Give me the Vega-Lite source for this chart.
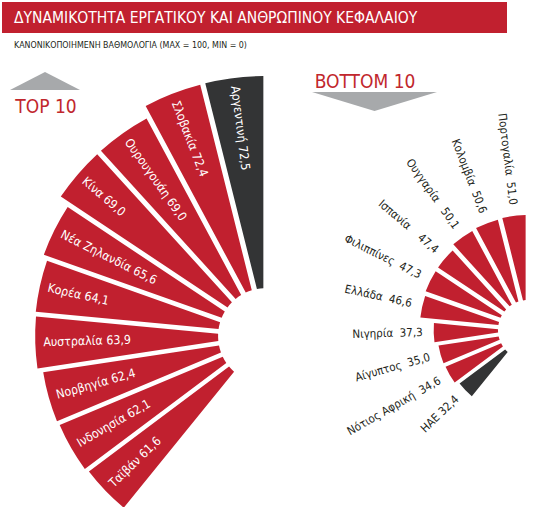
{
  "$schema": "https://vega.github.io/schema/vega-lite/v6.json",
  "description": "Δυναμικότητα εργατικού και ανθρώπινου κεφαλαίου, top 10 and bottom 10",
  "padding": {"left": 2, "top": 2, "right": 0, "bottom": 0},
  "background": "white",
  "spacing": 0,
  "bounds": "flush",
  "datasets": {
    "scores": [
      {"group": "TOP 10", "pos": 1, "country": "Αργεντινή", "value": 72.5, "label": "Αργεντινή 72,5"},
      {"group": "TOP 10", "pos": 2, "country": "Σλοβακία", "value": 72.4, "label": "Σλοβακία 72,4"},
      {"group": "TOP 10", "pos": 3, "country": "Ουρουγουάη", "value": 69.0, "label": "Ουρουγουάη 69,0"},
      {"group": "TOP 10", "pos": 4, "country": "Κίνα", "value": 69.0, "label": "Κίνα 69,0"},
      {"group": "TOP 10", "pos": 5, "country": "Νέα Ζηλανδία", "value": 65.6, "label": "Νέα Ζηλανδία 65,6"},
      {"group": "TOP 10", "pos": 6, "country": "Κορέα", "value": 64.1, "label": "Κορέα 64,1"},
      {"group": "TOP 10", "pos": 7, "country": "Αυστραλία", "value": 63.9, "label": "Αυστραλία 63,9"},
      {"group": "TOP 10", "pos": 8, "country": "Νορβηγία", "value": 62.4, "label": "Νορβηγία 62,4"},
      {"group": "TOP 10", "pos": 9, "country": "Ινδονησία", "value": 62.1, "label": "Ινδονησία 62,1"},
      {"group": "TOP 10", "pos": 10, "country": "Ταϊβάν", "value": 61.6, "label": "Ταϊβάν 61,6"},
      {"group": "BOTTOM 10", "pos": 1, "country": "Πορτογαλία", "value": 51.0, "label": "Πορτογαλία\u00a0\u00a051,0"},
      {"group": "BOTTOM 10", "pos": 2, "country": "Κολομβία", "value": 50.6, "label": "Κολομβία\u00a0\u00a050,6"},
      {"group": "BOTTOM 10", "pos": 3, "country": "Ουγγαρία", "value": 50.1, "label": "Ουγγαρία\u00a0\u00a0\u00a050,1"},
      {"group": "BOTTOM 10", "pos": 4, "country": "Ισπανία", "value": 47.4, "label": "Ισπανία\u00a0\u00a0\u00a0\u00a047,4"},
      {"group": "BOTTOM 10", "pos": 5, "country": "Φιλιππίνες", "value": 47.3, "label": "Φιλιππίνες\u00a0\u00a047,3"},
      {"group": "BOTTOM 10", "pos": 6, "country": "Ελλάδα", "value": 46.6, "label": "Ελλάδα\u00a0\u00a046,6"},
      {"group": "BOTTOM 10", "pos": 7, "country": "Νιγηρία", "value": 37.3, "label": "Νιγηρία\u00a0\u00a037,3"},
      {"group": "BOTTOM 10", "pos": 8, "country": "Αίγυπτος", "value": 35.0, "label": "Αίγυπτος\u00a0\u00a035,0"},
      {"group": "BOTTOM 10", "pos": 9, "country": "Νότιος Αφρική", "value": 34.6, "label": "Νότιος Αφρική\u00a0\u00a034,6"},
      {"group": "BOTTOM 10", "pos": 10, "country": "ΗΑΕ", "value": 32.4, "label": "ΗΑΕ 32,4"}
    ],
    "headers": [
      {"header": "TOP 10"},
      {"header": "BOTTOM 10"}
    ]
  },
  "vconcat": [
    {
      "width": 505,
      "height": 31,
      "view": {"fill": "#c1202f", "stroke": null},
      "title": {
        "text": "ΔΥΝΑΜΙΚΟΤΗΤΑ ΕΡΓΑΤΙΚΟΥ ΚΑΙ ΑΝΘΡΩΠΙΝΟΥ ΚΕΦΑΛΑΙΟΥ",
        "anchor": "start",
        "dx": 12,
        "offset": -24,
        "color": "white",
        "font": "Liberation Sans Narrow, DejaVu Sans Condensed, Roboto",
        "fontSize": 15.5,
        "fontWeight": "normal"
      },
      "data": {"name": "headers"},
      "mark": {"type": "point", "opacity": 0},
      "encoding": {}
    },
    {
      "width": 532,
      "height": 474,
      "title": {
        "text": "ΚΑΝΟΝΙΚΟΠΟΙΗΜΕΝΗ ΒΑΘΜΟΛΟΓΙΑ (MAX = 100, MIN = 0)",
        "anchor": "start",
        "dx": 12,
        "offset": -17,
        "color": "#231f20",
        "font": "Liberation Sans Narrow, DejaVu Sans Condensed, Roboto",
        "fontSize": 8.8,
        "fontWeight": "normal"
      },
      "data": {"name": "scores"},
      "resolve": {"scale": {"x": "independent", "y": "independent", "radius": "independent", "theta": "independent", "angle": "independent", "color": "independent"}},
      "layer": [
        {
          "transform": [{"filter": "datum.group == 'TOP 10'"}],
          "mark": {"type": "arc", "padAngle": 0.02},
          "encoding": {
            "x": {"field": "group", "type": "nominal", "axis": null, "scale": {"type": "point", "padding": 0, "domain": ["TOP 10", "BOTTOM 10"], "range": [264, 526]}},
            "y": {"field": "group", "type": "nominal", "axis": null, "scale": {"type": "point", "padding": 0, "domain": ["TOP 10", "BOTTOM 10"], "range": [303, 297]}},
            "theta": {"field": "pos", "type": "ordinal", "scale": {"type": "band", "paddingInner": 0, "paddingOuter": 0, "domain": [1, 2, 3, 4, 5, 6, 7, 8, 9, 10], "range": [0, -2.46]}},
            "radius": {"field": "value", "type": "quantitative", "scale": {"type": "linear", "domain": [0, 72.5], "range": [14, 260]}},
            "radius2": {"datum": 10},
            "color": {"condition": {"test": "datum.pos == 1", "value": "#333435"}, "value": "#c1202f"}
          }
        },
        {
          "transform": [{"filter": "datum.group == 'TOP 10'"}],
          "mark": {"type": "text", "align": "left", "baseline": "middle", "color": "white", "font": "Liberation Sans Narrow, DejaVu Sans Condensed, Roboto", "fontSize": 12.3},
          "encoding": {
            "x": {"field": "group", "type": "nominal", "axis": null, "scale": {"type": "point", "padding": 0, "domain": ["TOP 10", "BOTTOM 10"], "range": [264, 526]}},
            "y": {"field": "group", "type": "nominal", "axis": null, "scale": {"type": "point", "padding": 0, "domain": ["TOP 10", "BOTTOM 10"], "range": [303, 297]}},
            "theta": {"field": "pos", "type": "ordinal", "scale": {"type": "band", "paddingInner": 0, "paddingOuter": 0, "domain": [1, 2, 3, 4, 5, 6, 7, 8, 9, 10], "range": [0, -2.46]}},
            "radius": {"field": "value", "type": "quantitative", "scale": {"type": "linear", "domain": [0, 72.5], "range": [6, 252]}},
            "angle": {"field": "pos", "type": "quantitative", "scale": {"domain": [1, 10], "range": [82.95, -43.95]}},
            "text": {"field": "label"}
          }
        },
        {
          "transform": [{"filter": "datum.group == 'BOTTOM 10'"}],
          "mark": {"type": "arc", "padAngle": 0.04},
          "encoding": {
            "x": {"field": "group", "type": "nominal", "axis": null, "scale": {"type": "point", "padding": 0, "domain": ["TOP 10", "BOTTOM 10"], "range": [264, 526]}},
            "y": {"field": "group", "type": "nominal", "axis": null, "scale": {"type": "point", "padding": 0, "domain": ["TOP 10", "BOTTOM 10"], "range": [303, 297]}},
            "theta": {"field": "pos", "type": "ordinal", "scale": {"type": "band", "paddingInner": 0, "paddingOuter": 0, "domain": [1, 2, 3, 4, 5, 6, 7, 8, 9, 10], "range": [0, -2.46]}},
            "radius": {"field": "value", "type": "quantitative", "scale": {"type": "linear", "domain": [0, 51], "range": [38, 115]}},
            "radius2": {"datum": -5.3},
            "color": {"condition": {"test": "datum.pos == 10", "value": "#333435"}, "value": "#c1202f"}
          }
        },
        {
          "transform": [{"filter": "datum.group == 'BOTTOM 10'"}],
          "mark": {"type": "text", "align": "right", "baseline": "middle", "color": "#231f20", "font": "Liberation Sans Narrow, DejaVu Sans Condensed, Roboto", "fontSize": 11.5},
          "encoding": {
            "x": {"field": "group", "type": "nominal", "axis": null, "scale": {"type": "point", "padding": 0, "domain": ["TOP 10", "BOTTOM 10"], "range": [264, 526]}},
            "y": {"field": "group", "type": "nominal", "axis": null, "scale": {"type": "point", "padding": 0, "domain": ["TOP 10", "BOTTOM 10"], "range": [303, 297]}},
            "theta": {"field": "pos", "type": "ordinal", "scale": {"type": "band", "paddingInner": 0, "paddingOuter": 0, "domain": [1, 2, 3, 4, 5, 6, 7, 8, 9, 10], "range": [0, -2.46]}},
            "radius": {"field": "value", "type": "quantitative", "scale": {"type": "linear", "domain": [0, 51], "range": [49, 126]}},
            "angle": {"field": "pos", "type": "quantitative", "scale": {"domain": [1, 10], "range": [82.95, -43.95]}},
            "text": {"field": "label"}
          }
        },
        {
          "data": {"name": "headers"},
          "mark": {"type": "point", "filled": true, "size": 15625, "opacity": 1, "color": "#a7a9ab", "strokeWidth": 0},
          "encoding": {
            "x": {"field": "header", "type": "nominal", "axis": null, "scale": {"type": "point", "padding": 0, "domain": ["TOP 10", "BOTTOM 10"], "range": [43, 372.5]}},
            "y": {"field": "header", "type": "nominal", "axis": null, "scale": {"type": "point", "padding": 0, "domain": ["TOP 10", "BOTTOM 10"], "range": [48, 68.5]}},
            "shape": {"field": "header", "type": "nominal", "legend": null, "scale": {"domain": ["TOP 10", "BOTTOM 10"], "range": ["M-0.56,0.144L0,-0.144L0.56,0.144Z", "M-1,-0.152L0,0.152L1,-0.152Z"]}}
          }
        },
        {
          "data": {"name": "headers"},
          "mark": {"type": "text", "align": "center", "baseline": "alphabetic", "color": "#c1272d", "font": "Liberation Sans Narrow, DejaVu Sans Condensed, Roboto", "fontSize": 19},
          "encoding": {
            "x": {"field": "header", "type": "nominal", "axis": null, "scale": {"type": "point", "padding": 0, "domain": ["TOP 10", "BOTTOM 10"], "range": [44, 363]}},
            "y": {"field": "header", "type": "nominal", "axis": null, "scale": {"type": "point", "padding": 0, "domain": ["TOP 10", "BOTTOM 10"], "range": [80, 55]}},
            "text": {"field": "header"}
          }
        }
      ]
    }
  ],
  "config": {
    "view": {"stroke": null},
    "axis": {"grid": false}
  }
}
